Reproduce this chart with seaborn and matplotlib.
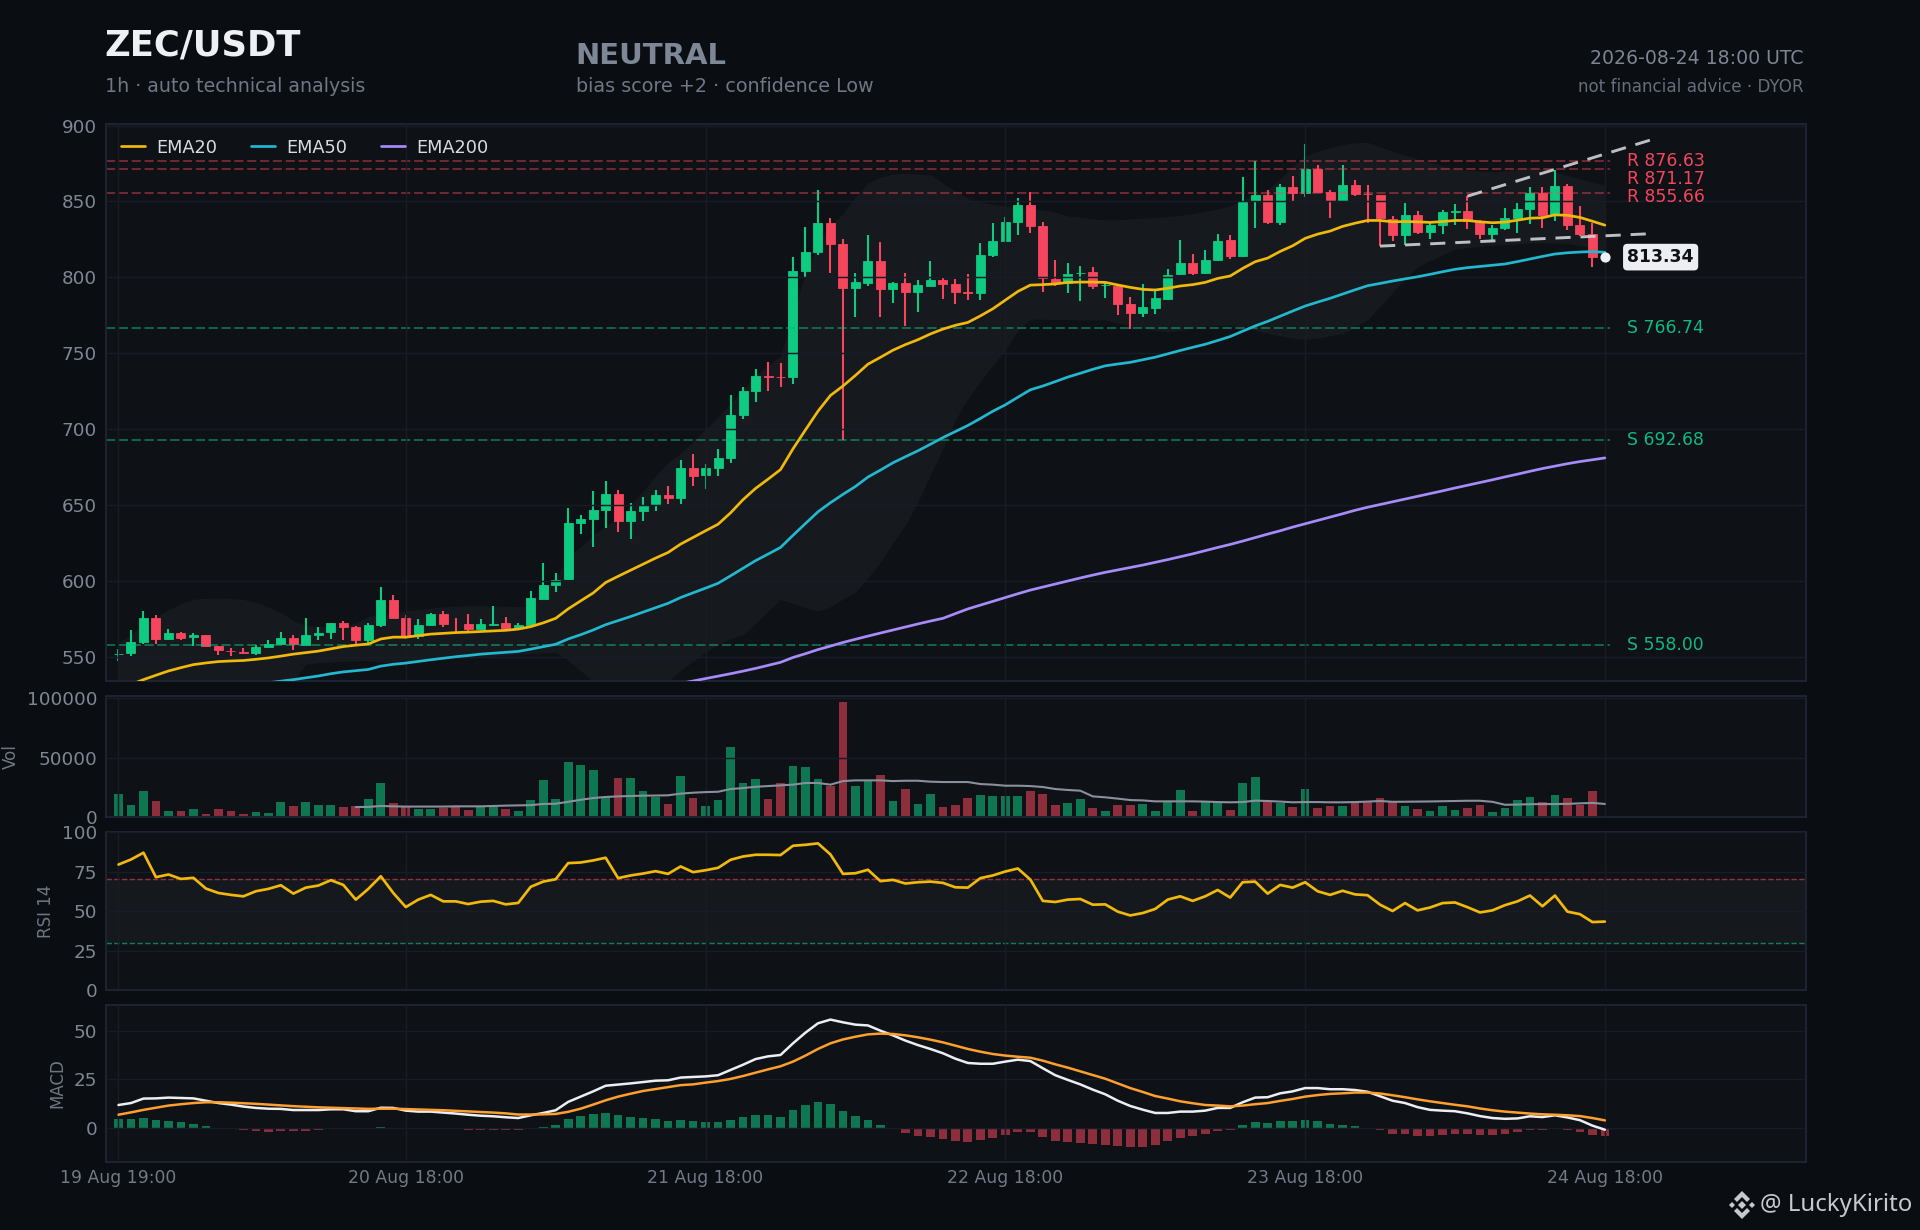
import numpy as np
import matplotlib
matplotlib.use("Agg")
import matplotlib.pyplot as plt
from matplotlib.patches import Polygon
from matplotlib.transforms import IdentityTransform
import seaborn as sns

# candles, one hour each
opens = [
    551.5,552.2,559.4,575.3,561.7,565.4,563.1,564.1,557,554,
    552.8,552.3,556.4,558.4,562.6,557.9,564.3,566,572,569.4,
    560.7,570.6,587.7,575.3,563.4,570.6,578,566.5,571.3,568.3,
    571.2,572,569,570.6,588.2,597.5,601,637.8,640.6,646.5,
    657,639.6,645.8,650.5,656.5,654.5,674.3,669.6,674.3,680.8,
    709,725,734.8,734.3,734.1,804,816.7,835.9,822,792.9,
    796.2,810.8,792.2,796.2,790.2,794.6,798.1,795.7,790.2,789.8,
    814.8,824,836.4,847.8,834.1,799,796.4,802.6,803.5,794.7,
    794.5,782.5,776.5,779.8,785.5,802.2,809.4,802.9,811.4,824.6,
    814,850.2,854.2,836.6,859.4,855.5,871.1,856.1,851.1,860.7,
    854.9,854.2,838.2,827.9,841,829.8,834.4,843.4,843.6,837.1,
    828.5,832.5,839,845,855.3,841,860,834.4,828.5]
closes = [
    551.9,559.4,575.3,561.7,565.4,562.4,564.1,557,554.2,553.5,
    552.3,556.2,558.7,562.6,558.4,564.1,565.8,572,569.6,560.7,
    570.6,587.7,575.3,563.4,570.6,578,571.3,566.2,568.3,571.3,
    571.6,569,570.6,588.4,597,600.8,637.8,641,646.5,657,
    639.6,645.8,650.2,656.5,654.7,674.3,668.9,674.3,680.8,709,
    725,734.9,734.5,734.1,804,816.7,835.9,822,792.9,796.9,
    810.8,792.2,796.2,790.2,794.9,798.1,795.7,790.2,789.8,814.8,
    824,836.4,847.8,834.1,799.4,796.9,802.1,803,794.5,794.9,
    782.5,776.5,780.5,786.4,801.5,809.4,802.9,811.4,823.9,814,
    849.8,854.2,836.6,859.4,855.5,871.1,856.4,851.1,860.7,855,
    854.7,839,827.9,841,829.8,834.4,843,843.7,837.1,828.5,
    832.5,839,845,855.3,841,860,834.6,828.5,813.6]
highs = [
    555,567.4,580,577.3,568.1,566.6,565.4,564.1,557,555.5,
    555.5,557.4,560.7,566.1,564.1,575.3,569.9,572,573.3,570,
    572,595.7,590.9,577.8,574.6,578.6,580,575.3,578,574.6,
    583.3,576.5,572.5,593.2,612,605.5,647.8,643.5,659,665.6,
    660.2,651,655.5,660.2,662.4,679.5,683.5,676.8,686.7,722.5,
    727.7,739.6,744,743.5,813.3,833.1,857.4,838.8,825.2,802.9,
    827.9,823.2,796.9,802.9,798.1,810.8,799.6,798.9,802.1,822.7,
    835.9,839.8,852.2,856.2,836.4,811.3,809.3,807.5,806.6,797.1,
    795,787.1,795.6,791.7,805.5,824.6,815.4,818,828.5,827.9,
    866,876.5,857.5,861.8,866.7,887.7,873.9,857.5,873.9,864,
    860.7,854.2,840.4,848.7,843.6,835.5,844.3,848.2,853.5,837.5,
    834.4,845.6,848.7,859.4,859.4,871,861.8,846.9,835.5]
lows = [
    547.5,550.5,558.7,558.7,561,561,557.2,556.2,551,550.5,
    551.5,551,556.4,557.9,554.2,557.9,560.9,561.7,560.9,558.4,
    558.4,569.6,575.3,561.7,561.7,570,569.6,566,566.5,567.4,
    570,568.3,568.3,570.6,588.2,592.6,600.6,630.6,622.5,634.9,
    632.1,627.4,639.6,645.8,650.5,650.5,662.4,660.4,668.9,677.5,
    706.6,717.7,725,727.7,730,800.4,814.8,802.9,692.7,773.8,
    794.2,773.8,783,767.9,777,794.2,785.7,782.3,785,785,
    813.3,823.5,827.9,829.2,790.2,794.2,789.7,784.4,792.3,786.4,
    775.2,766.2,774.1,776.1,785.3,801.5,801.5,802.4,811,812.3,
    813.6,832.7,835.3,834.6,850.4,852.9,856,839,850.9,853.7,
    836,820.6,823.9,821.3,828.5,825.2,828.5,834.4,831.8,825.2,
    824.6,831.1,829.2,835.1,832.5,837.1,831.1,827.2,807]

ema20 = [
    528.5,531.7,534.9,537.8,540.6,542.8,544.8,545.9,546.8,547.2,
    547.5,548.3,549.2,550.4,551.7,552.7,553.7,555.2,556.7,557.6,
    558.4,561.7,562.9,562.9,563.9,564.9,565.4,565.9,566.2,566.6,
    567,567.4,568.2,569.8,572.3,575.3,581.5,586.8,592,598.9,
    603,607,611,615,618.7,624.2,628.6,633,637.3,644.8,
    653.5,660.9,667,673.3,687,699.5,711.8,722.2,728.4,735.4,
    742.8,747.3,752,755.7,758.9,762.7,765.9,768.4,770.3,774.6,
    779.3,785,790.7,794.9,795.2,795.7,796.7,796.9,796.9,796.7,
    795,793.4,792.1,791.7,792.8,794.3,795.2,796.7,799.3,800.9,
    805.9,810.3,812.7,817.1,820.8,825.7,828.5,830.5,833.6,835.7,
    837.5,837.5,836.6,836.8,836.6,836.2,836.8,837.5,837.5,836.6,
    836,836.4,837.7,839,839.3,841.2,840.9,839.5,837,834.4]
# ema50 starts at bar 12, ema200 at bar 45 (below the axis before that)
ema50 = [
    532.8,533.9,534.9,536.1,537.3,538.8,540,540.8,
    541.6,543.8,545,545.8,546.9,548,549,550,550.8,551.7,
    552.3,552.9,553.5,555,556.6,558.2,561.7,564.5,567.6,571.1,
    573.8,576.5,579.4,582.3,585.2,589,592.1,595.2,598.4,603.3,
    608.3,613.3,617.6,622,630,637.8,645.5,651.5,657,662.2,
    668.4,673,677.8,681.8,685.7,690,694.4,698.4,702.4,707,
    711.8,716,721,725.9,728.4,731.3,734.3,736.8,739.4,741.7,
    742.9,744,745.7,747.4,749.6,751.8,753.9,755.9,758.4,761,
    764.5,768,771,774.4,777.8,781.1,783.7,786.2,789,791.8,
    794.5,796,797.6,799,800.4,802,803.7,805.3,806.4,807.2,
    808,808.8,810.4,812.1,813.8,815.4,816.2,816.7,817,816.5]
ema200 = [
    532.4,534,535.6,537.2,538.8,
    540.5,542.3,544.3,546.3,549.5,552,554.7,557,559.4,561.5,
    563.6,565.6,567.6,569.6,571.6,573.5,575.3,578.4,581.5,584,
    586.5,589,591.5,593.9,595.9,597.9,599.9,601.9,603.8,605.6,
    607.2,608.8,610.4,612.2,614,615.9,617.8,619.9,622,624,
    626.2,628.5,630.8,633,635.4,637.6,639.8,642,644.2,646.5,
    648.5,650.3,652.1,653.9,655.7,657.5,659.3,661.2,663,664.8,
    666.6,668.5,670.3,672.2,674,675.6,677.2,678.6,679.8,681]

band_upper = [
    559,565,571,576,581,585,588,588.5,588.7,588.5,
    587.7,586,582.7,579,574,570.4,570,570,570.4,572,
    576.5,578,579,580,581,582,583,583.3,583.5,583.5,
    583.5,583.3,583,583,592,602,615,622.5,630,636,
    642,650,659,669,678,684,692,700,708,717,
    726,735,742,748,775,803,822,834,842,853,
    862,866,868,868.5,868,867.6,862,857,852,849.5,
    848,847,846,845,844.5,843,840.5,839.6,838.5,838,
    838,838.5,839,839.5,840,841,842,843.5,845,847,
    851,855,858,865,873,880,883,885.5,887.5,888.8,
    889,886,883,880.5,878,876,873.5,871.5,870.6,870,
    869.5,870,871,872.8,871.5,869.5,867,865,862.5,860.7]
band_lower = [
    525,522,520,518,517,516,516,517,518,519,
    521,523,527,531,534,545,546,546.5,547,547.3,
    547.5,546.5,545.5,546.5,547.2,548,548.5,549,549.5,550,
    550.5,551,551.5,552,552.5,553,547.5,540.6,534,528,
    523,520,521,525,534,541,547,553,558,562,
    564.5,572,580,587.7,585,582.5,580,583,588,592.7,
    602,612.5,625,637,652,670,687,706,720,731.6,
    742,752,765,772.6,772.4,772.3,772.4,771.8,772,772,
    770,768,766.5,765,764,765,766.5,768,768.2,768.5,
    767,765,763,761.5,760,759,760,761.5,763,767.5,
    772,781,790,799,807,811,815,818.5,819.5,820.5,
    821,821.5,822,822.6,822.8,822.6,822.4,821,819.5,817]

resistance = [876.63, 871.17, 855.66]
resistance_label_y = [877.0, 864.8, 853.0]
support = [766.74, 692.68, 558.00]
last_price = 813.34

# trend lines: (bar, price) at each end
trend_x_upper = [108, 123]
trend_y_upper = [853.5, 891.4]
trend_x_lower = [101, 123]
trend_y_lower = [820.6, 828.9]

volume = [
    19100,9800,21600,13200,4800,4800,6500,2200,6500,4800,
    2200,3900,3100,12400,9000,12400,9800,9800,8100,9000,
    14900,28400,11500,9000,6500,6500,7300,9000,5600,9000,
    9800,6500,4800,14000,30900,14900,46100,43600,39300,16900,
    32600,32600,21600,16600,10700,34300,15700,9000,14000,58700,
    28400,31800,14900,28400,42700,41900,31800,25900,96700,25900,
    30100,35100,13200,23300,10700,19100,8100,9800,15700,18300,
    17400,17400,17400,21600,19100,9800,11500,14900,7300,4800,
    9800,9800,10700,4800,13200,22500,4800,13200,11500,5600,
    28400,33400,13200,11500,8100,23300,7800,9500,9500,12600,
    12600,16300,12800,9300,6700,5200,9300,5800,7600,10200,
    4400,7600,14300,16900,12800,18600,16000,10200,22100]
# 20 bar average, starts at bar 19
volume_ma = [
    8400,
    8500,9300,9000,8800,8800,8800,8800,9000,9000,9000,
    9300,9600,9800,10000,11000,11200,12800,14500,16000,16900,
    17400,17700,18000,18100,18300,19700,20500,21000,21300,23600,
    24400,25500,26100,26700,27300,28700,28700,27300,30300,30900,
    30900,30900,30300,30600,30600,29800,29500,29500,29500,27800,
    27300,26400,26400,26100,25300,23600,22800,22200,17400,16600,
    15500,14300,14000,13200,13200,13200,13200,13000,12600,12400,
    12600,13800,13500,13000,12400,12600,12600,12400,12400,12600,
    13000,13500,12800,12900,13000,13100,13300,13500,13700,13700,
    12800,10300,10500,10800,10900,10900,11100,11500,11900,11000]

rsi = [
    79.4,82.6,86.9,71.4,73.1,70.3,71,64.2,61.4,60.2,
    59.3,62.5,64,66.3,61,64.8,66.1,69.5,66.5,57.2,
    64,72,61.4,52.5,57.2,60.2,56.1,56.1,54.4,55.9,
    56.4,54.2,55.1,65.3,68.6,70.1,80.3,80.7,82,83.7,
    70.8,72.5,73.7,75.2,73.5,78.2,74.6,75.8,77.3,82.4,
    84.5,85.6,85.6,85.4,91.3,91.9,92.8,85.8,73.5,73.9,
    76.1,68.9,69.7,67.4,68.2,68.6,67.8,65,64.8,70.8,
    72.5,75,76.9,69.9,56.4,55.7,57.2,57.6,54,54.2,
    49.6,47.2,48.7,51.3,57.2,59.3,56.4,59.3,63.3,58.5,
    68.2,68.6,61,66.5,64.8,68.2,62.5,60.2,62.8,60.5,
    60,54,50,55,50.4,52.2,55,55.4,52.4,49.1,
    50.4,53.7,56.1,59.8,53,59.8,49.6,48,43,43.3]

macd = [
    11.8,12.8,15.1,15.2,15.6,15.4,15.2,14,12.8,12,
    11,10.3,9.9,9.8,9.2,9.2,9.2,9.6,9.6,8.6,
    8.6,10.4,10.3,8.9,8.4,8.4,7.9,7.4,6.8,6.3,
    6,5.5,5.1,6.5,7.7,9.1,13.4,16.1,18.8,21.7,
    22.3,22.9,23.6,24.3,24.5,25.9,26.2,26.5,27.1,29.8,
    32.5,35.4,36.8,37.5,43.5,49,53.8,55.7,54.3,53.1,
    52.7,50,47.6,44.9,42.6,40.6,38.4,35.6,33.4,33,
    33,34.1,35.1,34.4,30.7,27.1,24.7,22.4,19.7,17.3,
    14,11.3,9.4,7.7,7.7,8.4,8.4,8.9,10.3,10.3,
    13.2,15.6,15.8,17.8,18.8,20.5,20.5,19.9,19.9,19.5,
    18.6,16.3,14,12.8,10.7,9.3,8.9,8.6,7.5,6.1,
    5.1,4.7,4.9,6,5.6,6.5,5.4,4,1.2,-0.9]
signal = [
    6.8,8,9.3,10.4,11.5,12.2,12.8,13.2,13.2,13,
    12.7,12.4,12,11.6,11.2,10.9,10.6,10.4,10.2,10,
    9.8,9.9,9.9,9.7,9.5,9.3,9.1,8.8,8.5,8.2,
    7.9,7.5,6.9,6.9,7,7.2,8.3,9.9,12,14.2,
    16.1,17.6,19,20,21,22,22.4,23.3,24.1,25.2,
    26.7,28.4,30.1,31.7,34.1,37.2,40.6,43.5,45.5,46.9,
    48.1,48.5,48.3,47.6,46.6,45.4,44,42.3,40.6,39.2,
    38,37.2,36.6,36.1,34.6,32.7,31,29.1,27.2,25.3,
    22.9,20.5,18.5,16.4,15.1,13.7,12.7,11.8,11.5,11.1,
    11.5,12.2,12.8,13.9,14.9,16.1,16.9,17.5,17.8,18.2,
    18.2,17.7,16.8,15.8,14.7,13.7,12.8,11.9,11.1,10,
    9.1,8.4,7.9,7.4,7,6.8,6.5,6.1,5.1,3.9]
hist = [
    4.6,4.6,5.1,4.1,3.6,3.1,2.1,1,0,-0.4,
    -1.1,-1.8,-2,-1.6,-1.5,-1.5,-0.8,-0.1,0,-0.4,
    -0.5,0.5,0,-0.4,-0.4,0,-0.3,-0.5,-1.1,-1.2,
    -1.2,-1.2,-1.1,0,0.5,1.7,4.6,6.2,7.2,7.7,
    6.7,5.7,5.2,4.6,3.6,4.1,3.6,3.1,3.1,4.1,
    5.7,6.7,6.7,5.7,9.2,11.8,13.4,12.3,8.7,6.2,
    4.1,1.5,0,-2.6,-4.1,-4.6,-5.7,-6.7,-7.2,-6.2,
    -5.1,-3.6,-2.1,-2.1,-4.6,-6.7,-7.2,-7.7,-8.2,-8.7,
    -9.2,-9.8,-9.8,-8.7,-6.7,-5.1,-4.1,-3.1,-1.5,-1,
    1.5,3.1,2.6,3.6,3.6,4.1,3.6,2.1,1.6,1,
    0,-1,-3.2,-3.2,-4.2,-4.2,-3.7,-3.2,-3.2,-3.7,
    -3.7,-3.2,-2.1,-1.2,-1.2,0,-1.2,-2.1,-3.7,-4.2]

tick_bars = [0, 23, 47, 71, 95, 119]
tick_labels = ["19 Aug 19:00", "20 Aug 18:00", "21 Aug 18:00", "22 Aug 18:00", "23 Aug 18:00", "24 Aug 18:00"]

BG = "#0a0d11"
PANEL = "#0e1116"
GRID = "#181c27"
FRAME = "#1d2331"
UP = "#0ecb81"
DOWN = "#f6465d"
TICK = "#7f8794"
W, H = 1920, 1230

sns.set_theme(style="darkgrid", rc={
    "figure.facecolor": BG,
    "axes.facecolor": PANEL,
    "savefig.facecolor": BG,
    "axes.edgecolor": FRAME,
    "axes.linewidth": 1.0,
    "grid.color": GRID,
    "grid.linewidth": 0.7,
    "xtick.color": TICK,
    "ytick.color": TICK,
    "text.color": TICK,
    "axes.labelcolor": "#6f7785",
})
plt.rcParams["font.family"] = ["DejaVu Sans"]

fig = plt.figure(figsize=(W / 150, H / 150), dpi=150)


def panel(top, bottom):
    ax = fig.add_axes([105.5 / W, 1 - bottom / H, (1806 - 105.5) / W, (bottom - top) / H])
    ax.set_axisbelow(False)
    ax.set_xlim(-1.04, 135.1)
    return ax


ax_main = panel(123.5, 681)
ax_vol = panel(695.5, 817)
ax_rsi = panel(832, 990)
ax_macd = panel(1005, 1162)

bars = np.arange(len(closes))
lines_x = np.arange(len(rsi))
up = np.array(closes) >= np.array(opens)
bar_colors = np.where(up, UP, DOWN)

# price panel
ax_main.fill_between(lines_x, band_lower, band_upper, color="white", alpha=0.035, linewidth=0, zorder=0.5)

for level in resistance:
    ax_main.plot([-1.04, 119.4], [level, level], color=DOWN, alpha=0.5, lw=0.8, ls=(0, (5.5, 2.2)), zorder=2)
for level in support:
    ax_main.plot([-1.04, 119.4], [level, level], color="#10b981", alpha=0.6, lw=0.8, ls=(0, (5.5, 2.2)), zorder=2)

ax_main.vlines(bars, lows, highs, colors=bar_colors, lw=1.0, zorder=1)
ax_main.bar(bars, np.array(closes) - np.array(opens), bottom=opens, width=0.72, color=bar_colors,
            edgecolor=bar_colors, linewidth=0.4, zorder=1)

sns.lineplot(x=lines_x, y=ema20, color="#f0b90b", lw=1.3, label="EMA20", ax=ax_main, zorder=3)
sns.lineplot(x=lines_x[12:], y=ema50, color="#22b8cf", lw=1.3, label="EMA50", ax=ax_main, zorder=3)
sns.lineplot(x=lines_x[45:], y=ema200, color="#a78bfa", lw=1.3, label="EMA200", ax=ax_main, zorder=3)

ax_main.plot(trend_x_upper, trend_y_upper, color="#d0d2d6", alpha=0.9, lw=1.4, ls=(0, (5.2, 3.4)), zorder=3)
ax_main.plot(trend_x_lower, trend_y_lower, color="#d0d2d6", alpha=0.9, lw=1.4, ls=(0, (5.2, 3.4)), zorder=3)

ax_main.scatter([119], [last_price], s=24, color="#eef0f4", linewidths=0, zorder=5)
ax_main.text(120.8, last_price, f"{last_price:.2f}", fontsize=8.3, fontweight="bold", color="#0d1117",
             va="center", ha="left", zorder=6,
             bbox=dict(boxstyle="round,pad=0.25", fc="#eceef2", ec="none"))
for level, y in zip(resistance, resistance_label_y):
    ax_main.text(120.8, y, f"R {level:.2f}", fontsize=8.3, color=DOWN, va="center", ha="left")
for level in support:
    ax_main.text(120.8, level, f"S {level:.2f}", fontsize=8.3, color="#10b981", va="center", ha="left")

ax_main.set_ylim(534, 901.4)
ax_main.set_yticks(range(550, 901, 50))
leg = ax_main.legend(loc="upper left", ncol=3, frameon=False, fontsize=8.5, handlelength=1.4,
                     columnspacing=1.9, handletextpad=0.6, borderaxespad=0.35, borderpad=0.5)
for t in leg.get_texts():
    t.set_color("#d8dbe0")

# volume panel
sns.barplot(x=bars, y=volume, hue=bar_colors, palette={UP: UP, DOWN: DOWN}, native_scale=True, dodge=False,
            width=0.7, saturation=1, alpha=0.55, linewidth=0, errorbar=None, legend=False, ax=ax_vol)
sns.lineplot(x=lines_x[19:], y=volume_ma, color="#8a8f9c", lw=1.0, ax=ax_vol, zorder=3)
ax_vol.set_ylim(0, 102500)
ax_vol.set_yticks([0, 50000, 100000])
ax_vol.set_ylabel("Vol", fontsize=8, labelpad=3.2)

# rsi panel
ax_rsi.axhspan(30, 70, color="white", alpha=0.03, linewidth=0, zorder=0.5)
ax_rsi.axhline(70, color=DOWN, alpha=0.55, lw=0.7, ls="--", zorder=2)
ax_rsi.axhline(30, color="#10b981", alpha=0.65, lw=0.7, ls="--", zorder=2)
sns.lineplot(x=lines_x, y=rsi, color="#f0b90b", lw=1.3, ax=ax_rsi, zorder=3)
ax_rsi.set_ylim(0, 100)
ax_rsi.set_yticks([0, 25, 50, 75, 100])
ax_rsi.set_ylabel("RSI 14", fontsize=8, labelpad=3.4)

# macd panel
hist_colors = np.where(np.array(hist) >= 0, UP, DOWN)
sns.barplot(x=lines_x, y=hist, hue=hist_colors, palette={UP: UP, DOWN: DOWN}, native_scale=True, dodge=False,
            width=0.7, saturation=1, alpha=0.55, linewidth=0, errorbar=None, legend=False, ax=ax_macd)
sns.lineplot(x=lines_x, y=macd, color="#eceef2", lw=1.2, ax=ax_macd, zorder=3)
sns.lineplot(x=lines_x, y=signal, color="#ff9f2e", lw=1.2, ax=ax_macd, zorder=3)
ax_macd.set_ylim(-17.5, 63.2)
ax_macd.set_yticks([0, 25, 50])
ax_macd.set_ylabel("MACD", fontsize=8, labelpad=3.4)

for ax in [ax_main, ax_vol, ax_rsi, ax_macd]:
    ax.set_xlim(-1.04, 135.1)
    ax.set_xticks(tick_bars)
    ax.set_xticklabels(tick_labels if ax is ax_macd else [])
    ax.tick_params(axis="x", length=0, labelsize=8.3, pad=3.5, colors="#727a87")
    ax.tick_params(axis="y", length=0, labelsize=8.8, pad=4)
    ax.grid(True)
    if ax is not ax_macd:
        ax.set_xlabel("")


def fx(px):
    return px / W


def fy(py):
    return 1 - py / H


# header
fig.text(fx(104.5), fy(45.5), "ZEC/USDT", fontsize=17, fontweight="bold", color="#eef0f4", va="center")
fig.text(fx(105), fy(86.5), "1h · auto technical analysis", fontsize=9.1, color="#6f7785", va="center")
fig.text(fx(575.5), fy(56.5), "NEUTRAL", fontsize=14, fontweight="bold", color="#7d8796", va="center")
fig.text(fx(576), fy(86.5), "bias score +2 · confidence Low", fontsize=9.2, color="#6f7785", va="center")
fig.text(fx(1804), fy(58.5), "2026-08-24 18:00 UTC", fontsize=9.05, color="#7d8593", va="center", ha="right")
fig.text(fx(1804), fy(87.5), "not financial advice · DYOR", fontsize=8.05, color="#666e7b", va="center", ha="right")

# watermark
fig.text(fx(1760), fy(1205), "@ LuckyKirito", fontsize=11.5, color="#c6c9ce", va="center", family="Noto Sans")
cx, cy = 1742, 1205
for dx, dy, r in [(0, 0, 4), (-10, 0, 3), (10, 0, 3)]:
    pts = [(cx + dx, H - cy + dy + r), (cx + dx + r, H - cy + dy), (cx + dx, H - cy + dy - r), (cx + dx - r, H - cy + dy)]
    fig.add_artist(Polygon(pts, closed=True, fc="#c6c9ce", ec="none", transform=IdentityTransform()))
for sy in (1, -1):
    pts = [(cx - 8, H - cy + sy * 6), (cx, H - cy + sy * 14), (cx + 8, H - cy + sy * 6),
           (cx + 5, H - cy + sy * 3), (cx, H - cy + sy * 8), (cx - 5, H - cy + sy * 3)]
    fig.add_artist(Polygon(pts, closed=True, fc="#c6c9ce", ec="none", transform=IdentityTransform()))

fig.savefig("out.png", dpi=150)
